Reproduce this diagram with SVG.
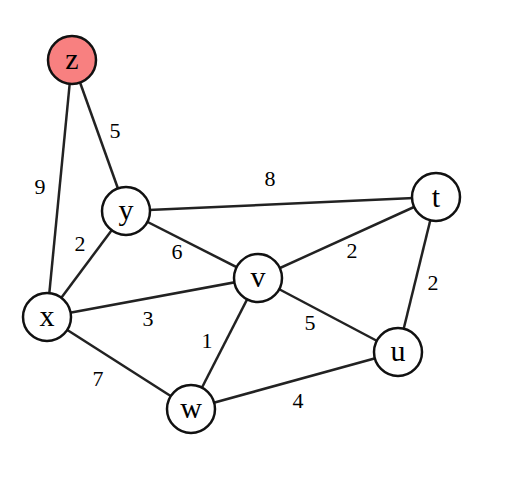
<svg xmlns="http://www.w3.org/2000/svg" width="516" height="490" viewBox="0 0 516 490">
<style>
.e{stroke:#222;stroke-width:2.5;fill:none}
.n circle{fill:#fff;stroke:#111;stroke-width:2.5}
</style>
<rect width="516" height="490" fill="#fff"/>
<g id="edges">
<line class="e" x1="72" y1="60" x2="126" y2="211"/>
<line class="e" x1="72" y1="60" x2="47" y2="317"/>
<line class="e" x1="126" y1="211" x2="436" y2="197"/>
<line class="e" x1="126" y1="211" x2="47" y2="317"/>
<line class="e" x1="126" y1="211" x2="258" y2="278"/>
<line class="e" x1="47" y1="317" x2="258" y2="278"/>
<line class="e" x1="47" y1="317" x2="191" y2="409"/>
<line class="e" x1="258" y1="278" x2="436" y2="197"/>
<line class="e" x1="258" y1="278" x2="398" y2="352"/>
<line class="e" x1="258" y1="278" x2="191" y2="409"/>
<line class="e" x1="436" y1="197" x2="398" y2="352"/>
<line class="e" x1="191" y1="409" x2="398" y2="352"/>
</g>
<g id="labels" font-family="'Liberation Serif', 'Times New Roman', serif" font-size="22" text-anchor="middle" fill="#000">
<text x="115" y="138">5</text>
<text x="40" y="194">9</text>
<text x="270" y="186">8</text>
<text x="80" y="251">2</text>
<text x="177" y="259">6</text>
<text x="352" y="258">2</text>
<text x="433" y="290">2</text>
<text x="148" y="326">3</text>
<text x="207" y="348">1</text>
<text x="310" y="330">5</text>
<text x="98" y="386">7</text>
<text x="298" y="408">4</text>
</g>
<g font-family="'Liberation Serif', 'Times New Roman', serif" font-size="30" text-anchor="middle" fill="#000">
<g id="node-z" class="n"><circle cx="72" cy="60" r="24" style="fill:#f88080"/><text x="72" y="69">z</text></g>
<g id="node-y" class="n"><circle cx="126" cy="211" r="24"/><text x="126" y="220">y</text></g>
<g id="node-t" class="n"><circle cx="436" cy="197" r="24"/><text x="436" y="207">t</text></g>
<g id="node-v" class="n"><circle cx="258" cy="278" r="24"/><text x="258" y="287">v</text></g>
<g id="node-x" class="n"><circle cx="47" cy="317" r="24"/><text x="47" y="326">x</text></g>
<g id="node-u" class="n"><circle cx="398" cy="352" r="24"/><text x="398" y="361">u</text></g>
<g id="node-w" class="n"><circle cx="191" cy="409" r="24"/><text x="191" y="418">w</text></g>
</g>
</svg>
